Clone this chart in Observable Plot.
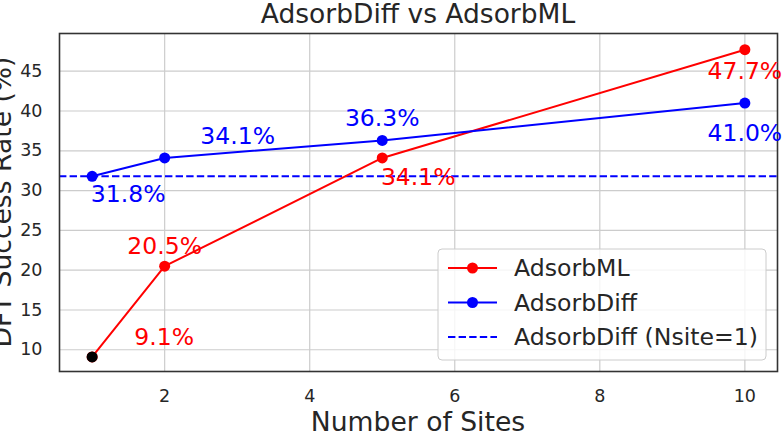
<!DOCTYPE html>
<html>
<head>
<meta charset="utf-8">
<script src="https://cdn.jsdelivr.net/npm/d3@7"></script>
<script src="https://cdn.jsdelivr.net/npm/@observablehq/plot@0.6"></script>
<style>
  html, body { margin: 0; padding: 0; background: #fff; }
  #chart { width: 784px; height: 434px; }
</style>
</head>
<body>
<div id="chart"></div>
<script>
// ---- data ----
const sites = [1, 2, 5, 10];
const adsorbML = [9.1, 20.5, 34.1, 47.7];
const adsorbDiff = [31.8, 34.1, 36.3, 41.0];
const adsorbDiffNsite1 = 31.8;
const xTicks = [2, 4, 6, 8, 10];
const yTicks = [10, 15, 20, 25, 30, 35, 40, 45];
const seriesNames = ["AdsorbML", "AdsorbDiff", "AdsorbDiff (Nsite=1)"];

const mlData = sites.map((s, i) => ({x: s, y: adsorbML[i]}));
const diffData = sites.map((s, i) => ({x: s, y: adsorbDiff[i]}));

// annotation offsets (pixels) per point — styling only
const mlOff = [[72, -19], [0, -20], [36, 19], [0, 22]];
const diffOff = [[36, 18], [73, -22], [0, -22], [0, 30]];

const FONT = "DejaVu Sans, sans-serif";
const W = 784, H = 434;
const mL = 59, mR = 7, mT = 33, mB = 63;

const labelMarks = [];
mlData.forEach((d, i) => {
  labelMarks.push(Plot.text([d], {x: "x", y: "y", text: d => d.y.toFixed(1) + "%",
    dx: mlOff[i][0], dy: mlOff[i][1], fill: "red", fontSize: 23.5, fontFamily: FONT}));
});
diffData.forEach((d, i) => {
  labelMarks.push(Plot.text([d], {x: "x", y: "y", text: d => d.y.toFixed(1) + "%",
    dx: diffOff[i][0], dy: diffOff[i][1], fill: "blue", fontSize: 23.5, fontFamily: FONT}));
});

const svg = Plot.plot({
  width: W, height: H,
  marginLeft: mL, marginRight: mR, marginTop: mT, marginBottom: mB,
  style: {fontFamily: FONT, background: "#fff", overflow: "visible"},
  x: {domain: [0.55, 10.45], ticks: xTicks},
  y: {domain: [7.27, 49.74], ticks: yTicks},
  marks: [
    Plot.gridX(xTicks, {stroke: "#cccccc", strokeOpacity: 1, strokeWidth: 1.2}),
    Plot.gridY(yTicks, {stroke: "#cccccc", strokeOpacity: 1, strokeWidth: 1.2}),
    Plot.axisX(xTicks, {tickSize: 0, tickPadding: 18, fontSize: 17.5, fill: "#262626", label: null, fontFamily: FONT}),
    Plot.axisY(yTicks, {tickSize: 0, tickPadding: 17, fontSize: 17.5, fill: "#262626", label: null, fontFamily: FONT}),
    Plot.ruleY([adsorbDiffNsite1], {stroke: "blue", strokeWidth: 2, strokeDasharray: "7.4,3.2"}),
    Plot.line(mlData, {x: "x", y: "y", stroke: "red", strokeWidth: 2}),
    Plot.line(diffData, {x: "x", y: "y", stroke: "blue", strokeWidth: 2}),
    Plot.dot(mlData, {x: "x", y: "y", fill: "red", r: 5.5}),
    Plot.dot(diffData, {x: "x", y: "y", fill: "blue", r: 5.5}),
    Plot.dot(mlData.slice(0, 1), {x: "x", y: "y", fill: "black", r: 5.5}),
    Plot.frame({stroke: "#333333", strokeWidth: 1.6}),
    ...labelMarks
  ]
});

document.getElementById("chart").appendChild(svg);

const s = d3.select(svg);
const cx = mL + (W - mL - mR) / 2;
// title
s.append("text").attr("x", cx).attr("y", 23).attr("text-anchor", "middle")
  .attr("font-family", FONT).attr("font-size", 26.5).attr("fill", "#262626")
  .text("AdsorbDiff vs AdsorbML");
// x label
s.append("text").attr("x", cx).attr("y", 431).attr("text-anchor", "middle")
  .attr("font-family", FONT).attr("font-size", 26.6).attr("fill", "#262626")
  .text("Number of Sites");
// y label
s.append("text").attr("transform", `translate(11,${mT + (H - mT - mB) / 2}) rotate(-90)`)
  .attr("text-anchor", "middle")
  .attr("font-family", FONT).attr("font-size", 26.6).attr("fill", "#262626")
  .text("DFT Success Rate (%)");

// legend
const lg = s.append("g");
lg.append("rect").attr("x", 438).attr("y", 249).attr("width", 328).attr("height", 111)
  .attr("rx", 4).attr("fill", "#fff").attr("fill-opacity", 0.8)
  .attr("stroke", "#cccccc").attr("stroke-width", 1);
const entries = [
  {name: seriesNames[0], color: "red", dash: null, marker: true},
  {name: seriesNames[1], color: "blue", dash: null, marker: true},
  {name: seriesNames[2], color: "blue", dash: "7.4,3.2", marker: false}
];
entries.forEach((e, i) => {
  const y = 268 + i * 34.5;
  lg.append("line").attr("x1", 448).attr("x2", 497).attr("y1", y).attr("y2", y)
    .attr("stroke", e.color).attr("stroke-width", 2)
    .attr("stroke-dasharray", e.dash);
  if (e.marker) lg.append("circle").attr("cx", 472.5).attr("cy", y).attr("r", 5.5).attr("fill", e.color);
  lg.append("text").attr("x", 514).attr("y", y).attr("dy", "0.35em")
    .attr("text-anchor", "start")
    .attr("font-family", FONT).attr("font-size", 23.6).attr("fill", "#262626")
    .text(e.name);
});
</script>
</body>
</html>
